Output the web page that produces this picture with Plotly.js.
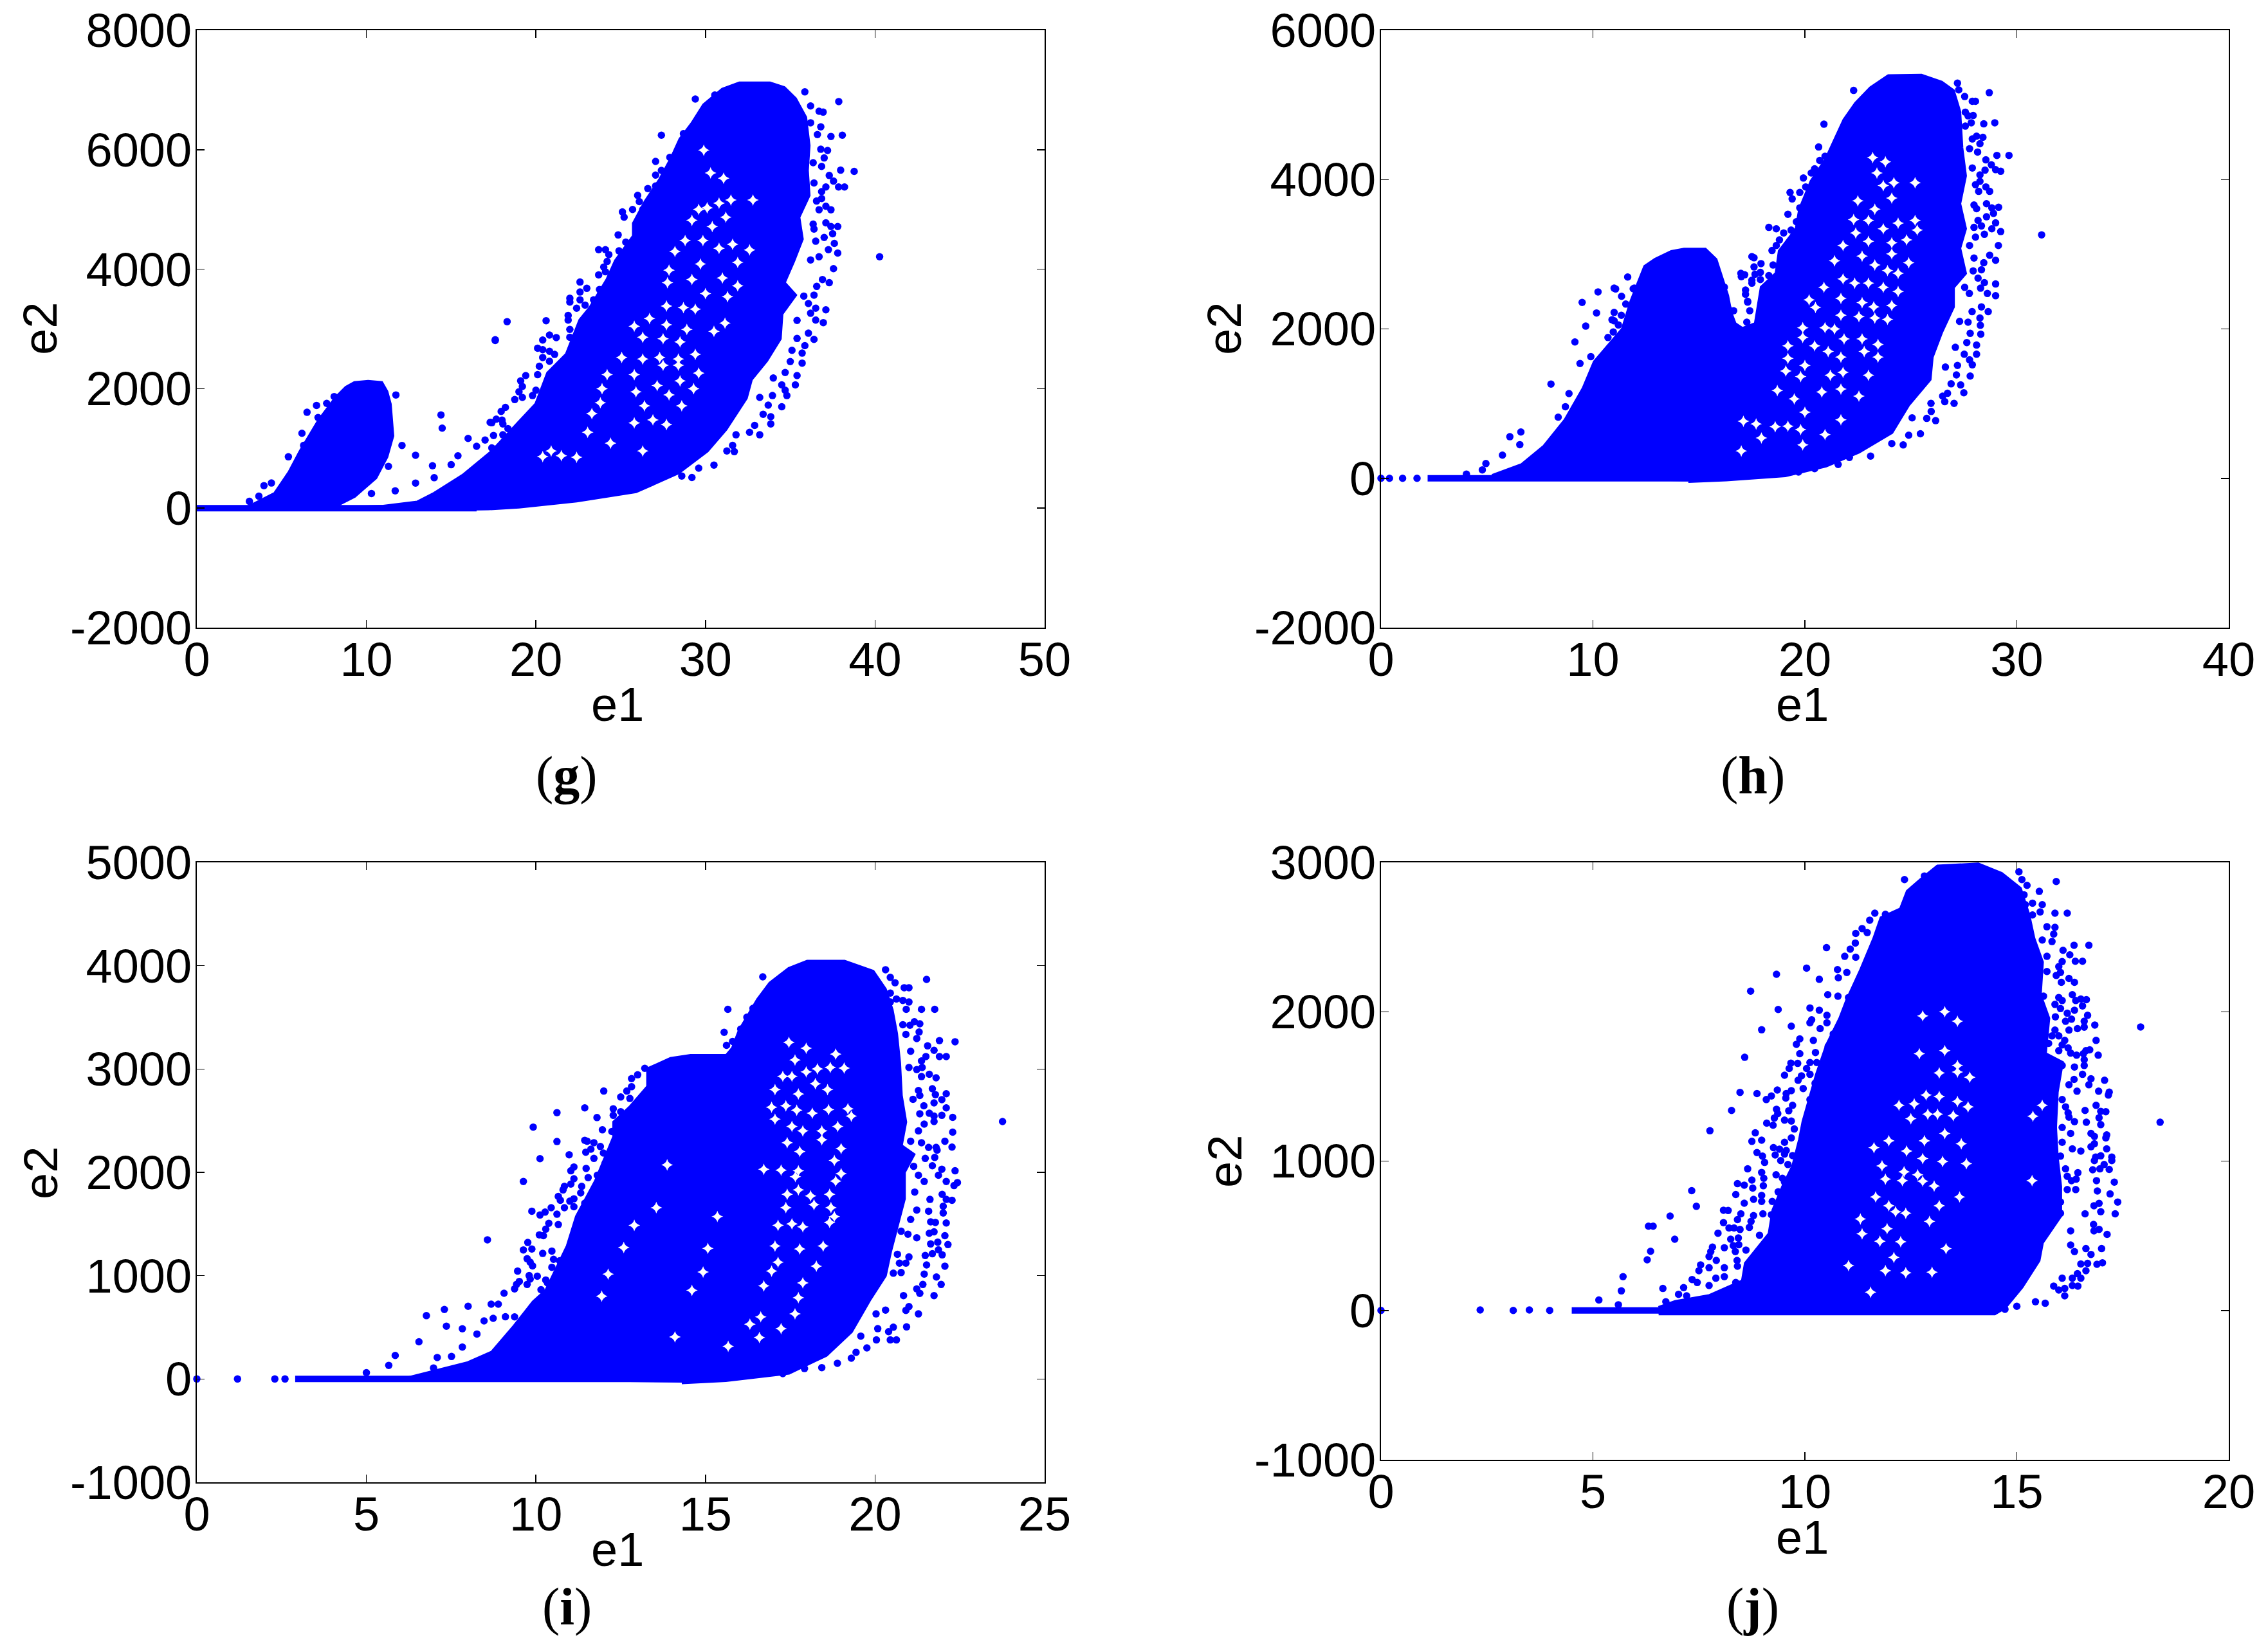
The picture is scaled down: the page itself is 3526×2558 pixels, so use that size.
<!DOCTYPE html>
<html><head><meta charset="utf-8">
<script src="https://cdn.plot.ly/plotly-3.0.1.min.js"></script>
<style>html,body{margin:0;padding:0;background:#fff}</style></head>
<body><div id="chart" style="width:3526px;height:2558px"></div>
<script>
// Panel (g): e1,e2 pairs
const gLobeEdge=[[2.9,0],[4.6,245],[5.45,600],[6.1,950],[7.2,1470],[8.2,1850],[8.8,2020],[9.3,2100],[10.1,2120],[10.9,2100],[11.2,1950],[11.4,1740],[11.55,1210],[11.2,860],[10.55,510],[9.3,200],[8.4,70],[8,0]];
const gMainEdge=[[8,0],[11,30],[13,100],[14,245],[15.7,550],[17.4,947],[18.96,1426],[20,1740],[20.7,2260],[21.8,2574],[22.6,3148],[23.2,3357],[24.2,3826],[24.7,4140],[25.76,4557],[25.76,4766],[26.45,5131],[27.3,5496],[28,5862],[28.5,6175],[29.2,6436],[29.9,6749],[31,7010],[32,7114],[33.8,7114],[34.64,7036],[35.3,6853],[35.9,6540],[36.1,6070],[36,5653],[36.1,5235],[35.5,4870],[35.7,4505],[35.2,4140],[34.64,3774],[35.3,3566],[34.5,3253],[34.4,2835],[33.6,2470],[32.7,2157],[32.4,1844],[31.2,1322],[30.1,957],[28.4,592],[25.9,278],[22.4,122],[19,20],[17.2,-9],[15,-20]];
const gGaps=[[31.07,5522],[30.3,5611],[29.9,5992],[31.5,5157],[30.8,5105],[32.8,5157],[30.1,5027],[29.6,5000],[29.2,4818],[30.4,4714],[31.2,4870],[28.8,4479],[29.85,4479],[30.8,4349],[31.6,4416],[32.6,4322],[31.9,4114],[28.2,4296],[27.85,3983],[29.2,3827],[31,3853],[31.9,3722],[29.7,4087],[27.76,3774],[30,3592],[31.3,3540],[28.7,3357],[29.4,3331],[27.7,3383],[26.7,3174],[27.7,3070],[30.5,2960],[31.15,3096],[28.9,2992],[25.8,3044],[27.5,2835],[28.5,2783],[26.3,2861],[27.3,2522],[28.4,2496],[29.4,2574],[26.3,2496],[25.06,2522],[28.4,2392],[27.5,2392],[25.8,2235],[24.2,2235],[27.15,2052],[28.5,2130],[29.6,2261],[23.9,2000],[27.85,1896],[29.3,2000],[23.8,1765],[26.4,1713],[28.6,1713],[25.9,1948],[23.3,1583],[25.8,1426],[27.7,1400],[26.9,1478],[23.05,1270],[24.4,1087],[26.3,957],[22.4,852],[21.5,878],[20.9,957],[20.4,863]];
const gDots=[[29.4,6848],[30.55,6916],[27.4,6243],[28.7,6269],[27.06,5804],[27.9,5872],[27.06,5575],[27.4,5653],[26.6,5350],[27.06,5392],[26,5235],[26.1,5131],[25.1,4959],[25.2,4870],[25.7,5000],[26.3,5000],[24.85,4573],[25.3,4453],[23.7,4327],[24.1,4327],[24.3,4244],[24.9,4307],[24.2,4129],[24,4035],[24.1,3957],[23.7,3905],[23.75,3660],[22.6,3785],[23,3680],[22.6,3618],[22,3513],[22.6,3487],[23.4,3487],[22,3450],[22.9,3399],[22.4,3347],[21.9,3227],[21.9,3148],[18.3,3122],[20.6,3138],[17.6,2820],[22,2992],[20.8,2898],[21.2,2856],[20.4,2814],[22,2861],[20.1,2678],[20.4,2653],[20.8,2626],[21.1,2574],[20.4,2522],[20.8,2459],[20.2,2376],[20.1,2235],[19.4,2220],[19.1,2130],[19.2,2037],[20,1974],[19,1948],[19.8,1885],[18.75,1818],[19.2,1854],[18.2,1687],[17.95,1620],[17.66,1489],[18.05,1410],[17.3,1437],[18.35,1332],[17.5,1217],[18.05,1228],[17.4,1009],
[35.86,6968],[37.86,6806],[36.2,6733],[36.7,6644],[36.94,6629],[36.2,6451],[36.8,6383],[37.4,6222],[38.07,6243],[36.6,6253],[37.2,5987],[36.8,6008],[37,5862],[36.35,5783],[36.85,5721],[37.97,5658],[38.77,5637],[37.3,5569],[36.4,5444],[37.55,5475],[37.85,5376],[38.2,5376],[37.1,5376],[36.85,5298],[36.85,5183],[36.55,5141],[37.1,5053],[37.4,4995],[36.7,4995],[36.35,4755],[37.1,4776],[37.4,4714],[37.8,4714],[36.4,4672],[37.5,4594],[37,4531],[36.5,4468],[37.6,4432],[37.25,4327],[37.8,4270],[36.7,4208],[36.2,4155],[37.55,4009],[40.27,4208],[36.9,3827],[37.3,3774],[36.56,3712],[35.8,3550],[36.4,3566],[36.07,3425],[37.1,3320],[36.5,3347],[36.2,3263],[36.5,3148],[36.95,3106],[35.4,3143],[35.4,2840],[36.07,2929],[36.4,2825],[35.86,2720],[35.1,2642],[35.7,2595],[35,2454],[35.7,2428],[34.7,2271],[35.4,2220],[34,2178],[35.3,2063],[34.5,2063],[34.7,1974],[34.8,1885],[33.95,1885],[33.2,1854],[33.7,1724],[34.5,1698],[33.4,1572],[33.85,1531],[33.85,1410],[32.9,1385],[32.6,1270],[31.8,1228],[33.2,1228],[31.6,1051],[31.26,957],[31.7,946],[30.5,722],[29.6,670],[29.2,513],[28.6,539],
[14.4,1560],[14.47,1340],[12.9,886],[11.74,1895],[12.1,1050],[11.3,700],[13.9,710],[6.5,1605],[7.06,1720],[7.66,1754],[8.1,1868],[7.15,1517],[5.4,860],[6.2,1254],[6.3,1052],[3.96,377],[4.4,421],[3.1,114],[3.66,200],[10.3,245],[16,1167],[17,1140],[16.5,1035],[17.6,2807],[11.7,290],[12.9,420],[14,510],[15,728],[15.4,877],[18,1473],[17.4,1430]];
const gBase=[[0,0],[16.5,0]];

// Panel (h)
const hMainEdge=[[5.3,0],[5.3,42],[6.65,183],[7.7,430],[8.7,783],[9.55,1206],[10.07,1558],[10.75,1780],[11.4,2000],[11.8,2370],[12.1,2594],[12.45,2837],[12.94,2930],[13.7,3035],[14.3,3065],[15.3,3065],[15.8,2930],[16.1,2670],[16.35,2445],[16.5,2221],[16.7,2071],[17.05,2004],[17.67,2071],[17.95,2557],[18.65,2744],[18.8,3043],[19.6,3341],[19.76,3603],[20.3,3976],[21,4275],[21.5,4574],[21.85,4798],[22.4,5022],[23.1,5228],[23.94,5388],[25.5,5396],[26.45,5302],[27,5190],[27.3,4910],[27.4,4424],[27.57,4051],[27.3,3677],[27.57,3341],[27.3,3080],[27.57,2744],[27,2557],[27,2296],[26.45,1960],[26,1623],[25.9,1324],[24.9,988],[24.1,615],[22.55,353],[21,167],[19.07,36],[16.3,-20],[14.5,-40]];
const hGaps=[[23.8,4238],[23.2,4294],[24.1,3752],[23.7,3920],[24.2,3958],[25.2,3958],[23.4,4088],[22.5,3715],[23.3,3603],[22.3,3465],[23,3453],[23.7,3341],[24.4,3416],[25.3,3323],[25.2,3453],[22.4,3285],[23,3173],[24.8,3192],[24.1,3154],[21.8,3117],[22.7,2975],[24.1,3005],[24.9,2886],[23.3,2856],[21.4,2912],[24.4,2744],[23.9,2781],[22.35,2613],[23,2613],[21.8,2669],[20.9,2557],[24.4,2501],[23.7,2557],[21.7,2408],[22.7,2352],[20.2,2389],[24.1,2314],[20.5,2288],[22.55,2165],[21.7,2184],[23.25,2296],[23.3,2146],[21.4,2000],[20.95,2016],[23.9,2127],[19.9,2016],[22.7,1866],[21.85,1866],[19.9,1885],[20.46,1773],[19.2,1773],[21.7,1623],[21.1,1698],[23.45,1792],[22.8,1698],[19.2,1605],[23.45,1623],[19.1,1437],[21.2,1380],[23,1380],[20,1511],[21.8,1418],[19.8,1362],[18.7,1175],[20.8,1156],[19.5,1063],[21.7,1194],[22.55,1100],[20,884],[21.7,783],[17.7,727],[18.6,690],[19.2,697],[19.8,652],[17.1,764],[17.95,540],[19.9,447],[17,365],[20.95,585]];
const hDots=[[22.3,5194],[20.9,4742],[20.65,4436],[20.95,4312],[20.7,4256],[20.46,4144],[20.3,4088],[19.93,4021],[20.6,4070],[20.04,3902],[19.3,3827],[19.76,3827],[20.2,3827],[19.4,3741],[19.76,3621],[19.2,3536],[19.6,3435],[18.3,3360],[18.65,3341],[19,3285],[19.35,3323],[18.8,3192],[18.65,3117],[18.45,3050],[17.6,2953],[17.93,2875],[17.6,2830],[18.5,2856],[16.98,2744],[17.16,2725],[17.65,2733],[18.3,2714],[17.9,2662],[17.5,2613],[17.2,2520],[17.2,2464],[17.3,2359],[16.64,2243],[17.4,2243],[17.26,2090],[11.64,2695],[11.07,2535],[11.35,2437],[11.9,2538],[11.55,2333],[11,2221],[11.34,2183],[11,2109],[11.2,2053],[10.96,1960],[10.71,1885],
[27.2,5291],[28.7,5164],[27.26,5201],[27.54,5112],[27.9,5048],[28.05,5048],[27.57,4903],[27.94,4858],[27.7,4854],[27.85,4761],[28.44,4746],[28.96,4761],[27.57,4716],[28.1,4581],[28.4,4566],[27.9,4544],[28.26,4480],[27.77,4413],[28.15,4369],[29.06,4324],[29.63,4324],[28.54,4264],[28.8,4197],[27.9,4156],[28.5,4126],[29,4133],[29.24,4111],[28.26,4062],[28.26,3976],[28.05,3932],[28.54,3902],[28.2,3842],[28.72,3842],[27.98,3659],[28.57,3677],[28.1,3610],[28.82,3621],[29.14,3629],[28.9,3547],[28.57,3502],[28.17,3453],[29,3420],[27.98,3360],[28.33,3379],[28.82,3341],[29.24,3304],[28.47,3267],[28.05,3229],[29.13,3117],[31.17,3259],[27.77,3117],[27.98,2949],[28.72,2987],[29,2919],[28.44,2886],[27.94,2777],[28.33,2792],[28.17,2680],[28.47,2620],[29,2602],[27.54,2557],[28.29,2546],[27.76,2475],[28.61,2475],[29,2445],[28.33,2296],[27.89,2232],[28.65,2232],[28.26,2146],[27.7,2090],[27.3,2101],[28.28,2049],[27.8,1941],[28.3,1930],[27.1,1754],[27.64,1818],[28.1,1784],[27.52,1661],[28.1,1661],[27.77,1586],[27.9,1519],[27.2,1511],[26.63,1489],[27.15,1384],[27.8,1369],[26.9,1265],[27.35,1250],[27.5,1145],[26.73,1138],[26.5,1100],[26.6,1026],[27.04,1003],[25.95,1003],[25.96,895],[25.75,802],[26.17,772],[25.06,809],[25.45,596],[24.9,577],[24.64,447],[24.1,465],[23.1,297],[22.1,279],[21.57,185],[20.46,129],[19.7,85],
[10.24,2496],[9.49,2355],[11.95,2546],[11,2546],[9.66,2038],[9.15,1826],[8.02,1262],[10.17,2214],[10.9,2123],[9.39,1537],[9.9,1629],[8.87,1135],[8.7,959],[8.36,818],[6.08,557],[6.6,620],[6.55,451],[5.73,310],[4.95,197],[4.78,113],[4.03,56],[0,0],[0.4,0],[1.02,0],[1.7,0],[16.2,2560],[16.4,2264],[16.55,2052],[17,2700],[17.5,2652],[17.5,2969],[17.9,2757],[17.3,2370]];
const hBase=[[2.2,0],[14.5,0]];

// Panel (i)
const iMainEdge=[[6.1,0],[7.4,106],[8,157],[8.7,258],[9.37,515],[9.92,744],[10.3,858],[10.93,1287],[11.2,1572],[11.76,1915],[12.3,2344],[12.3,2487],[12.77,2630],[13.3,2830],[13.3,3001],[13.97,3101],[14.56,3130],[15.62,3130],[15.8,3201],[16,3372],[16.27,3515],[16.54,3672],[16.9,3830],[17.46,3972],[18,4041],[19.1,4041],[19.94,3944],[20.3,3772],[20.5,3572],[20.63,3344],[20.72,3058],[20.77,2744],[20.9,2487],[20.77,2258],[21.14,2172],[20.86,2001],[20.86,1744],[20.63,1458],[20.45,1230],[20.3,1001],[19.85,772],[19.3,458],[18.56,230],[17.46,58],[15.6,-13],[14.3,-36]];
const iGaps=[[17.97,3201],[17.46,3258],[18.84,3144],[17.64,3087],[17.55,2929],[17.97,2972],[18.3,3001],[18.68,3015],[19.09,3009],[17.28,2929],[18.24,2858],[17.05,2801],[17.74,2758],[18.6,2801],[16.95,2630],[17.37,2644],[17.69,2601],[18.15,2572],[18.63,2607],[19.3,2544],[19.2,2615],[17.05,2515],[18.9,2444],[17.55,2444],[18.43,2401],[17.41,2287],[17.87,2401],[18.43,2315],[19,2230],[17.78,2201],[18.8,2115],[17.74,2015],[16.72,2029],[17.23,2021],[19,1987],[17.65,1958],[18.84,1915],[17.41,1787],[17.74,1830],[18.66,1787],[18.1,1772],[18.2,1687],[17.37,1658],[18.7,1658],[18.8,1572],[17.14,1487],[17.87,1472],[18.66,1515],[17.55,1501],[17.05,1287],[17.78,1258],[18.47,1287],[15.07,1264],[18.27,1092],[17.14,1130],[16.95,1044],[14.93,1035],[12.13,1015],[11.94,801],[17.87,930],[16.72,901],[17.64,630],[17.74,787],[16.63,601],[16.31,530],[17.23,487],[16.59,401],[15.67,315],[14.1,407],[12.9,1487],[12.59,1272],[13.87,2072],[15.35,1572],[13.55,1658],[14.6,858]];
const iDots=[[16.69,3892],[15.66,3578],[15.55,3355],[16.4,3587],[16.22,3501],[16.04,3387],[15.62,3229],[15.8,3267],[13.21,3007],[12.82,2907],[13,2944],[12.82,2829],[12,2787],[12.68,2787],[12.5,2729],[12.77,2715],[10.62,2578],[11.44,2624],[12.28,2615],[12.5,2587],[12.28,2552],[11.8,2530],[9.92,2438],[11.96,2412],[12.24,2395],[10.62,2298],[11.44,2310],[11.71,2287],[11.51,2301],[11.9,2250],[11.62,2224],[11.47,2195],[11.99,2187],[10.98,2170],[10.12,2132],[11.71,2135],[12.04,2087],[11.12,2052],[11.48,2038],[11.03,2015],[11.81,1972],[11.54,1949],[11.12,1938],[9.63,1912],[11.03,1887],[11.35,1864],[10.84,1864],[10.8,1830],[11.32,1801],[10.66,1767],[10.72,1730],[11.12,1744],[11,1721],[11.44,1701],[10.84,1658],[11.12,1667],[10.45,1658],[9.88,1624],[10.27,1615],[10.12,1587],[10.62,1595],[10.38,1507],[10.66,1495],[10.29,1450],[10.1,1395],[10.22,1387],[9.76,1321],[9.63,1249],[9.88,1258],[10.2,1215],[10.47,1238],[9.74,1164],[9.83,1130],[10.52,1158],[10.7,1144],[9.9,1095],[10.47,1081],[9.46,1044],[9.8,1001],[10.04,995],[9.83,967],[10.29,958],[9.51,944],[9.74,915],[9.37,872],[10.34,930],[10.15,864],[10,730],[9.74,624],[9.37,601],
[20.31,3961],[21.52,3867],[20.45,3887],[20.59,3835],[20.86,3787],[21,3787],[20.45,3735],[20.63,3678],[20.82,3664],[21,3649],[20.45,3649],[21.37,3578],[21.76,3578],[20.92,3578],[20.82,3429],[21.03,3424],[21.32,3438],[21.16,3458],[21.3,3358],[20.91,3335],[21.23,3295],[21.9,3275],[22.36,3264],[21.55,3224],[21.74,3181],[21.05,3172],[21.9,3121],[22.1,3121],[21.5,3121],[21.37,3078],[21.39,3015],[21.23,2995],[21,3015],[21.37,2927],[21.6,2949],[21.8,2915],[21.69,2809],[21.28,2792],[21.78,2752],[22.1,2761],[21.32,2744],[21.97,2704],[21.12,2707],[21.74,2672],[21.44,2644],[22.1,2624],[21.32,2567],[21.6,2572],[21.74,2544],[21.97,2552],[22.29,2532],[21.74,2492],[23.76,2492],[21.45,2467],[22.29,2389],[21.28,2401],[21.05,2301],[21.37,2287],[21.58,2241],[21.8,2241],[22.06,2301],[22.27,2244],[21.83,2215],[21.48,2135],[21.76,2144],[21.14,2058],[21.28,1972],[21.69,2064],[21.97,2030],[22.36,2015],[21.87,1972],[21.45,1912],[22.1,1912],[22.43,1901],[22.33,1872],[21.17,1809],[21.98,1787],[21.62,1738],[22.1,1738],[22.27,1730],[22.01,1672],[21.23,1635],[21.58,1624],[22.01,1607],[21.05,1544],[21.64,1521],[21.78,1515],[22.1,1510],[20.77,1430],[20.97,1401],[21.23,1367],[21.6,1410],[21.74,1424],[22.06,1387],[21.64,1307],[21.85,1324],[22.15,1301],[21.87,1250],[21.48,1195],[21.69,1212],[21.98,1201],[20.66,1207],[21,1181],[20.72,1121],[20.91,1121],[21.52,1104],[22.06,1092],[20.77,1030],[20.54,1024],[21.45,1015],[21.81,987],[21.95,915],[21.41,915],[21.23,872],[21.32,829],[20.84,807],[21.74,807],[21,701],[20.91,664],[21.28,630],[20.31,667],[20.03,630],[20.93,504],[20.54,501],[20.4,458],[20.08,487],[20.04,378],[20.63,378],[20.45,378],[19.58,415],[19.76,301],[19.44,258],[19.3,201],[18.89,152],[18.43,110],[17.92,101],[17.28,52],
[8.57,1347],[6.77,613],[7.3,673],[7.36,511],[8,704],[6.55,360],[5.85,228],[5.66,132],[5,61],[7.09,208],[7.51,218],[7.83,486],[8.47,562],[8.68,724],[8.89,724],[9.06,830],[8.74,587],[9.1,602],[9.43,916],[8.26,435],[7.83,309],[6.98,106],[0,0],[1.2,0],[2.3,0],[2.6,0]];
const iBase=[[2.9,0],[14.3,0]];

// Panel (j)
const jMainEdge=[[6.55,19],[6.94,58],[7.74,98],[8.53,197],[8.6,315],[9.16,513],[9.25,671],[9.48,829],[9.72,968],[9.88,1146],[9.96,1264],[10.12,1422],[10.28,1581],[10.52,1778],[10.83,1956],[10.99,2075],[11.31,2273],[11.63,2490],[11.8,2628],[12.26,2688],[12.42,2806],[12.74,2885],[13.13,2974],[14.09,2988],[14.64,2925],[15.08,2826],[15.28,2648],[15.4,2490],[15.6,2332],[15.55,2114],[15.75,1956],[15.67,1719],[16.07,1660],[15.95,1462],[15.91,1225],[15.95,1027],[16.03,829],[16.03,632],[15.6,454],[15.52,335],[15.12,157],[14.72,19],[14.48,-21],[6.55,-21]];
const jGaps=[[13.6,1936],[13.3,2000],[12.78,1972],[13.3,1739],[12.7,1719],[13.6,1640],[13.6,1596],[13.89,1561],[13.17,1590],[12.86,1442],[13.6,1399],[13.85,1363],[13.17,1432],[12.58,1383],[12.22,1373],[15.6,1373],[12.5,1284],[12.9,1314],[13.13,1314],[13.5,1304],[15.38,1300],[11.98,1136],[12.82,1136],[13.69,1116],[13.3,1185],[11.63,1090],[12.4,1067],[12.78,1017],[13.25,997],[13.81,983],[11.82,968],[12.34,928],[12.66,908],[11.9,879],[12.3,869],[12.78,865],[13.05,833],[15.36,869],[11.67,760],[13.65,760],[13.17,701],[11.98,701],[12.14,661],[12.38,651],[11.31,612],[12.94,596],[11.94,547],[11.35,513],[11.77,463],[12.26,460],[13.33,414],[12.1,355],[11.9,266],[12.38,252],[13,256],[11.03,300],[11.55,122]];
const jDots=[[12.35,2885],[12.82,2909],[15.05,2937],[15.93,2872],[15.12,2885],[15.24,2846],[15.53,2806],[15.17,2783],[15.2,2717],[15.37,2727],[15.6,2717],[15.55,2668],[15.9,2660],[16.19,2660],[15.37,2648],[11.65,2660],[11.9,2652],[11.53,2613],[11.35,2557],[11.2,2524],[11.47,2530],[10.51,2429],[11.19,2460],[11.07,2419],[10.94,2371],[11.2,2365],[10.04,2292],[9.33,2251],[10.77,2282],[10.34,2217],[10.99,2263],[10.79,2227],[8.72,2138],[10.54,2114],[10.78,2104],[11.03,2095],[9.37,2015],[10.12,2025],[10.34,2010],[10.52,1976],[10.16,1946],[10.12,1926],[10.36,1887],[10.52,1926],[9.68,1903],[8.98,1879],[10.67,1851],[9.88,1818],[9.8,1782],[10.2,1808],[10.55,1768],[10.25,1727],[9.88,1719],[8.58,1695],[9.67,1656],[9.83,1654],[10.12,1660],[10.28,1660],[9.63,1620],[10.04,1620],[9.52,1575],[10.12,1581],[9.92,1571],[9.84,1541],[10.24,1521],[9.35,1476],[8.47,1460],[8.87,1452],[9.68,1472],[9.56,1452],[9.96,1486],[9.21,1436],[9.09,1412],[9.55,1422],[10.12,1412],[8.27,1339],[9.71,1373],[9.33,1347],[9.62,1337],[9.36,1318],[9.28,1288],[9.52,1274],[9.68,1268],[9.1,1254],[9.25,1240],[9.75,1215],[7.76,1203],[8.83,1189],[9.68,1155],[8.75,1132],[8.98,1140],[9.52,1126],[9.26,1090],[9.4,1080],[8.87,1057],[9.56,1071],[9.3,1041],[9.52,1047],[9.71,1037],[9,1033],[9.05,991],[9.43,1003],[9.6,977],[8.65,948],[8.98,924],[9.32,908],[9.03,885],[9.47,885],[8.75,873],[8.41,849],[8.57,839],[8.77,819],[9.02,835],[9.52,859],[7.33,802],[8.37,776],[8.79,744],[8.98,770],[9.37,794],[8.57,718],[8.98,730],[9.23,730],[7.44,697],[8.08,671],[8.19,669],[8.49,647],[8.79,635],[9.01,647],[9.21,641],[6.82,632],[8.08,588],[8.41,608],[8.73,596],[6.31,564],[6.42,564],[8.21,552],[8.33,552],[8.47,542],[8.69,556],[7.95,517],[6.93,477],[8.25,477],[8.43,485],[8.93,503],[8.31,434],[8.44,440],[7.82,424],[8.1,420],[8.61,404],[6.36,396],[7.78,394],[8.36,394],[7.74,361],[6.28,339],[7.91,335],[8.4,335],[7.54,305],[7.74,286],[8.1,286],[8.41,296],[5.71,226],[7.5,266],[7.9,216],[8.1,226],[7.34,207],[7.46,187],[5.67,131],[6.65,147],[7.14,153],[8.37,187],[7.02,108],[7.74,167],[7.21,98],[5.6,38],[6.72,58],
[16.35,2445],[16.7,2445],[16.09,2411],[16.25,2381],[15.71,2569],[15.9,2565],[15.87,2520],[15.83,2470],[15.6,2480],[15.71,2371],[16.07,2336],[16.38,2338],[16.55,2338],[15.99,2302],[15.71,2269],[16.03,2263],[15.93,2243],[16.23,2223],[16.05,2197],[16.36,2197],[16.31,2114],[15.99,2095],[15.63,2104],[16.39,2075],[16.51,2085],[16.64,2081],[16.07,2075],[15.9,2049],[16.55,2039],[16.03,2021],[16.36,2010],[16.19,1990],[16.67,1976],[15.91,1966],[16.15,1936],[16.29,1950],[16.59,1936],[16.84,1911],[16.43,1887],[16.59,1897],[16.23,1877],[15.9,1877],[15.83,1838],[15.99,1838],[16.87,1808],[16.13,1808],[15.75,1788],[16.07,1778],[16.21,1758],[15.99,1739],[16.72,1745],[16.63,1739],[16.27,1723],[16.41,1709],[16.57,1719],[16.92,1709],[16.59,1679],[16.36,1630],[16.59,1640],[16.07,1640],[16.55,1581],[16.75,1551],[17.07,1541],[16.35,1547],[16.7,1511],[16.23,1511],[16.42,1468],[16.93,1468],[17.18,1462],[17.16,1442],[16.07,1412],[16.87,1373],[16.61,1339],[16.98,1333],[17.1,1331],[16.15,1363],[16.21,1323],[16.94,1290],[16.23,1294],[16.36,1264],[16.64,1260],[16.98,1244],[16.07,1225],[16.27,1185],[16.75,1185],[17.12,1175],[16.83,1165],[17.1,1155],[16.07,1126],[16.83,1116],[16.75,1096],[16.31,1082],[16.51,1067],[17.12,1082],[16.03,1033],[17.24,1027],[16.98,1035],[16.86,1027],[17.24,1003],[16.83,1003],[17.06,977],[16.79,942],[16.96,948],[17.18,944],[16.44,922],[16.15,948],[16.19,898],[16.29,869],[16.4,879],[16.88,869],[17.3,859],[16.19,809],[16.39,809],[16.9,800],[17.2,780],[17.38,726],[16.03,726],[16.94,717],[16.82,701],[16.98,661],[16.61,647],[17.32,647],[16.03,651],[16.81,576],[16.82,533],[16.94,543],[17.13,509],[16.27,533],[16.27,438],[16.36,394],[17,414],[16.63,414],[16.75,375],[16.51,311],[16.67,315],[17.02,319],[16.89,309],[16.63,266],[16.43,246],[16.51,216],[16.07,216],[16.31,216],[16.44,163],[16.31,167],[16.13,147],[15.99,137],[15.87,163],[16.13,98],[15.67,48],[15.44,58],[15,28],[14.72,8],
[17.92,1898],[18.38,1260],[0,0],[2.34,3],[3.12,0],[3.5,3],[3.98,0],[5.14,70]];
const jBase=[[4.5,0],[14.5,0]];

const gXTicks=[0,10,20,30,40,50], gYTicks=[-2000,0,2000,4000,6000,8000];
const hXTicks=[0,10,20,30,40], hYTicks=[-2000,0,2000,4000,6000];
const iXTicks=[0,5,10,15,20,25], iYTicks=[-1000,0,1000,2000,3000,4000,5000];
const jXTicks=[0,5,10,15,20], jYTicks=[-1000,0,1000,2000,3000];
const panelNames=['g','h','i','j'];
const xLabel='e1', yLabel='e2';

const W=3526,H=2558,BLUE='#0000ff';
const boxes=[{l:306,r:1624,t:47,b:976},{l:2147,r:3465,t:47,b:976},{l:306,r:1624,t:1341,b:2305},{l:2147,r:3465,t:1341,b:2270}];
const captions=[[881,1205],[2725,1205],[881,2498],[2725,2498]];
const xTitlePos=[[960,1095],[2802,1095],[960,2409],[2802,2390]];
const yTitlePos=[[63,511],[1904,511],[63,1824],[1904,1806]];
const panels=[
 {bodies:[gLobeEdge,gMainEdge],gaps:gGaps,dots:gDots,base:gBase,xt:gXTicks,yt:gYTicks},
 {bodies:[hMainEdge],gaps:hGaps,dots:hDots,base:hBase,xt:hXTicks,yt:hYTicks},
 {bodies:[iMainEdge],gaps:iGaps,dots:iDots,base:iBase,xt:iXTicks,yt:iYTicks},
 {bodies:[jMainEdge],gaps:jGaps,dots:jDots,base:jBase,xt:jXTicks,yt:jYTicks}];
const xs=a=>a.map(p=>p[0]), ys=a=>a.map(p=>p[1]);
const font={family:'"Liberation Sans",Arial,sans-serif',size:74,color:'#000'};
const traces=[],layout={width:W,height:H,margin:{l:0,r:0,t:0,b:0},paper_bgcolor:'#fff',plot_bgcolor:'#fff',showlegend:false,annotations:[],font};
const note=(pos,text,f,angle)=>({xref:'paper',yref:'paper',x:pos[0]/W,y:1-pos[1]/H,xanchor:'center',yanchor:'middle',showarrow:false,text,font:f,textangle:angle||0});
panels.forEach((p,i)=>{
  const n=i+1,xa='x'+n,ya='y'+n,b=boxes[i];
  p.bodies.forEach(e=>traces.push({type:'scatter',mode:'lines',x:xs(e),y:ys(e),xaxis:xa,yaxis:ya,fill:'toself',fillcolor:BLUE,line:{color:BLUE,width:5},hoverinfo:'skip'}));
  traces.push({type:'scatter',mode:'lines',x:xs(p.base),y:ys(p.base),xaxis:xa,yaxis:ya,line:{color:BLUE,width:10},cliponaxis:false,hoverinfo:'skip'});
  traces.push({type:'scatter',mode:'markers',x:xs(p.gaps),y:ys(p.gaps),xaxis:xa,yaxis:ya,marker:{symbol:'star-diamond',size:13,color:'#fff',line:{width:0}},hoverinfo:'skip'});
  traces.push({type:'scatter',mode:'markers',x:xs(p.dots),y:ys(p.dots),xaxis:xa,yaxis:ya,marker:{symbol:'circle',size:11.5,color:BLUE,line:{width:0}},cliponaxis:false});
  const common={showgrid:false,zeroline:false,showline:true,linecolor:'#000',linewidth:2,mirror:'allticks',ticks:'inside',ticklen:12,tickwidth:1.5,tickcolor:'#000',tickfont:font,tickmode:'array',automargin:false};
  layout['xaxis'+(n>1?n:'')]=Object.assign({},common,{domain:[b.l/W,b.r/W],range:[p.xt[0],p.xt[p.xt.length-1]],tickvals:p.xt,ticktext:p.xt.map(String),anchor:ya,ticklabelstandoff:-16});
  layout['yaxis'+(n>1?n:'')]=Object.assign({},common,{domain:[1-b.b/H,1-b.t/H],range:[p.yt[0],p.yt[p.yt.length-1]],tickvals:p.yt,ticktext:p.yt.map(String),anchor:xa,ticklabelstandoff:-9});
  layout.annotations.push(note(xTitlePos[i],xLabel,font));
  layout.annotations.push(note(yTitlePos[i],yLabel,font,-90));
  layout.annotations.push(note(captions[i],'(<b>'+panelNames[i]+'</b>)',{family:'"Liberation Serif",serif',size:82,color:'#000'}));
});
Plotly.newPlot('chart',traces,layout,{displayModeBar:false,staticPlot:true});
</script></body></html>
